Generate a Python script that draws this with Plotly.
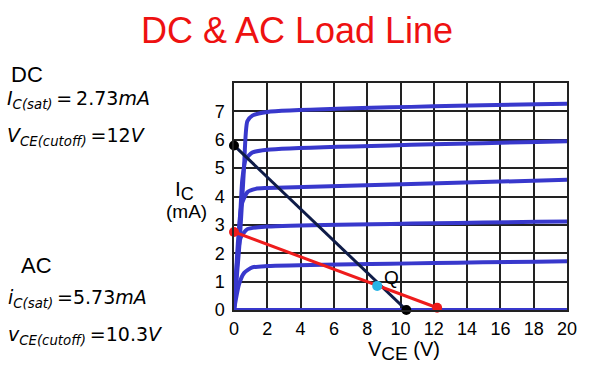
import plotly.graph_objects as go

# ---- data ----
x_ticks = [0, 2, 4, 6, 8, 10, 12, 14, 16, 18, 20]
y_ticks = [0, 1, 2, 3, 4, 5, 6, 7]

curve1_v = [0, 0.35, 0.6, 0.8, 1.1, 2, 20]
curve1_i = [0, 2.5, 5.0, 6.65, 6.85, 6.98, 7.27]
curve2_v = [0, 0.3, 0.5, 0.7, 1.1, 2, 20]
curve2_i = [0, 2.5, 4.6, 5.3, 5.55, 5.65, 5.95]
curve3_v = [0, 0.25, 0.45, 0.8, 1.3, 2, 20]
curve3_i = [0, 2.5, 3.7, 4.15, 4.27, 4.3, 4.59]
curve4_v = [0, 0.2, 0.4, 0.8, 2, 20]
curve4_i = [0, 1.8, 2.55, 2.85, 2.94, 3.12]
curve5_v = [0, 0.3, 0.6, 1.1, 2, 20]
curve5_i = [0, 0.9, 1.3, 1.5, 1.55, 1.72]
curve6_v = [0, 20]
curve6_i = [0, 0]

ac_line_v = [0, 10.35]
ac_line_i = [5.8, 0]
dc_line_v = [0, 12.2]
dc_line_i = [2.75, 0.08]
q_v = [8.6]
q_i = [0.85]

W, H = 589, 386
L, R, T, B = 234, 17, 83, 76
PW, PH = W - L - R, H - T - B


def px(x):
    return (x - L) / PW


def py(y):
    return (H - B - y) / PH


BLUE = "#3838cc"
NAVY = "#0f1c48"
RED = "#ee1c1c"
CYAN = "#29b4e6"
GRID = "#222222"

fig = go.Figure()

for v, i in [(curve1_v, curve1_i), (curve2_v, curve2_i), (curve3_v, curve3_i),
             (curve4_v, curve4_i), (curve5_v, curve5_i), (curve6_v, curve6_i)]:
    fig.add_trace(go.Scatter(x=v, y=i, mode="lines",
                             line=dict(color=BLUE, width=4, shape="spline", smoothing=0.6),
                             hoverinfo="skip", cliponaxis=False))

fig.add_trace(go.Scatter(x=ac_line_v, y=ac_line_i, mode="lines+markers",
                         line=dict(color=NAVY, width=3),
                         marker=dict(color="black", size=10), cliponaxis=False))
fig.add_trace(go.Scatter(x=dc_line_v, y=dc_line_i, mode="lines+markers",
                         line=dict(color=RED, width=3),
                         marker=dict(color=RED, size=10), cliponaxis=False))
fig.add_trace(go.Scatter(x=q_v, y=q_i, mode="markers",
                         marker=dict(color=CYAN, size=10), cliponaxis=False))

fig.update_layout(
    width=W, height=H,
    margin=dict(l=L, r=R, t=T, b=B),
    paper_bgcolor="white", plot_bgcolor="white",
    showlegend=False,
    font=dict(family="Liberation Sans, Arial", color="black"),
    title=dict(text="DC & AC Load Line", x=297 / W, xanchor="center",
               y=1 - 30 / H, yanchor="middle",
               font=dict(size=36, color="#ee1111", family="Liberation Sans, Arial")),
)

fig.update_xaxes(range=[0, 20], tickvals=x_ticks, ticktext=[str(t) for t in x_ticks],
                 showgrid=True, gridcolor=GRID, gridwidth=1.5,
                 showline=True, linecolor=GRID, linewidth=1.5, mirror=True,
                 zeroline=False, ticks="", ticklabelstandoff=2,
                 tickfont=dict(size=18, color="black"))
fig.update_yaxes(range=[0, 8], tickvals=y_ticks + [8], ticktext=[str(t) for t in y_ticks] + [""],
                 showgrid=True, gridcolor=GRID, gridwidth=1.5,
                 showline=True, linecolor=GRID, linewidth=1.5, mirror=True,
                 zeroline=False, ticks="", ticklabelstandoff=4,
                 tickfont=dict(size=18, color="black"))

EQ = "DejaVu Sans"
SANS = "Liberation Sans, Arial"
TS = "\u2009"
anns = [
    ("Q", 394, 277, "center", 19, SANS),
    ("DC", 6, 75, "left", 22, SANS),
    ("<i>I</i><sub><i>C(sat)</i></sub>" + TS + "=" + TS + "2.73<i>mA</i>", 2, 99, "left", 19, EQ),
    ("<i>V</i><sub><i>CE(cutoff)</i></sub>" + TS + "=12<i>V</i>", 2, 136, "left", 19, EQ),
    ("AC", 16, 265, "left", 22, SANS),
    ("<i>i</i><sub><i>C(sat)</i></sub>" + TS + "=5.73<i>mA</i>", 3, 298, "left", 19, EQ),
    ("<i>v</i><sub><i>CE(cutoff)</i></sub>" + TS + "=10.3<i>V</i>", 3, 335, "left", 19, EQ),
    ("I<sub><span style='font-size:18px'>C</span></sub>", 184, 190, "center", 21, SANS),
    ("(mA)", 186, 211, "center", 19, SANS),
    ("V<sub><span style='font-size:19px'>CE</span></sub> (V)", 407, 351, "center", 20, SANS),
]
for text, x, y, xa, size, fam in anns:
    fig.add_annotation(text=text, x=px(x), y=py(y), xref="paper", yref="paper",
                       xanchor=xa, yanchor="middle", showarrow=False,
                       font=dict(size=size, color="black", family=fam))

fig.write_html("out.html", config={"displayModeBar": False},
               post_script="document.body.style.margin='0';document.body.style.overflow='hidden';")
